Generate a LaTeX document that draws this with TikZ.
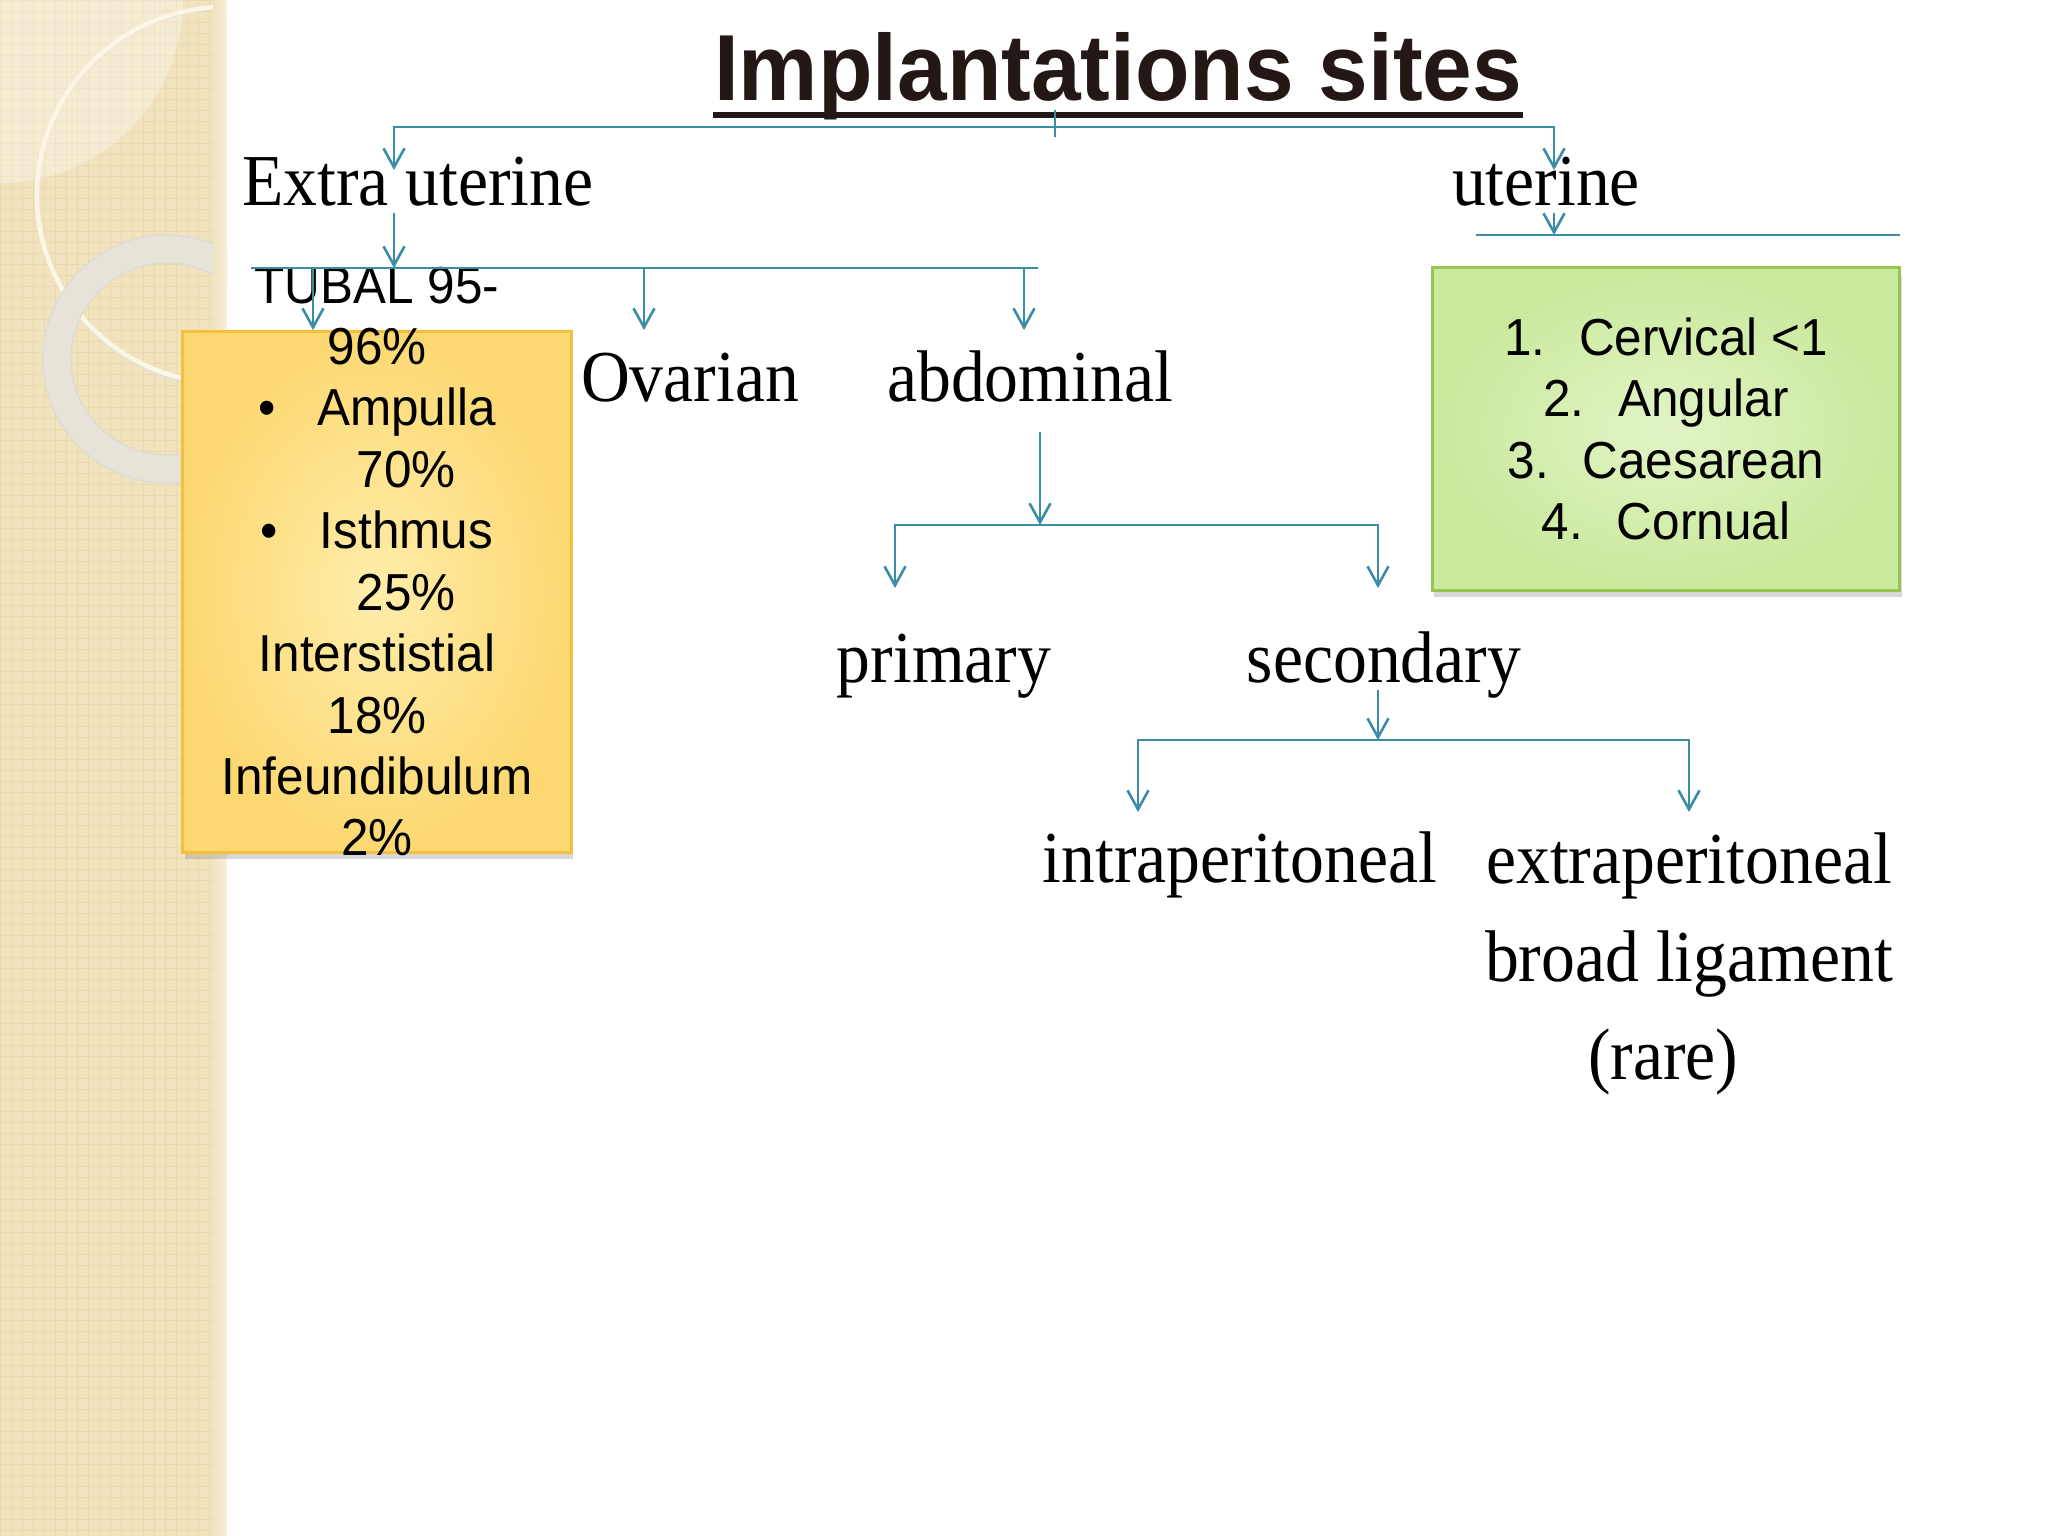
\documentclass[tikz,border=0pt]{standalone}
\usepackage{fontspec}
\setmainfont[FakeStretch=0.925]{Liberation Serif}
\setsansfont[FakeStretch=0.95]{Liberation Sans}
\usetikzlibrary{positioning}
\usetikzlibrary{arrows.meta}
\usetikzlibrary{shadows}
\definecolor{conncol}{HTML}{3A8DA4}
\definecolor{titlecol}{HTML}{231815}
\definecolor{stripcol}{HTML}{F2E3BF}
\definecolor{stripgrid}{HTML}{EAD9AE}
\definecolor{ringcol}{HTML}{E7E3D8}
\definecolor{arccol}{HTML}{FBF6E6}
\definecolor{yellowin}{HTML}{FFEDAA}
\definecolor{yellowout}{HTML}{FCD872}
\definecolor{yellowedge}{HTML}{F3BF3C}
\definecolor{greenin}{HTML}{E2F4C6}
\definecolor{greenout}{HTML}{C9E99C}
\definecolor{greenedge}{HTML}{96C552}
\newcommand{\sitefont}{\fontsize{20.8pt}{27.9pt}\selectfont}
\newcommand{\boxfont}{\sffamily\fontsize{14.8pt}{17.47pt}\selectfont}
\newcommand{\bulletgap}{•\hspace{0.8em}}
\newcommand{\hangpad}{\hphantom{\bulletgap}}

\begin{document}
\begin{tikzpicture}[x=0.01cm, y=-0.01cm, >={Straight Barb[length=0.19cm, width=0.21cm]},
    conn/.style={draw=conncol, line width=0.026cm},
    site/.style={font=\sitefont, inner sep=0pt, anchor=base},
    listbox/.style={draw, line width=0.03cm, inner sep=0pt,
        drop shadow={shadow xshift=0.02cm, shadow yshift=-0.07cm, opacity=0.3}}]
    \useasboundingbox (0,0) rectangle (2048,1536);
    \fill[white] (0,0) rectangle (2048,1536);
    % left decorative strip
    \begin{scope}
        \clip (0,0) rectangle (227,1536);
        \fill[stripcol] (0,0) rectangle (227,1536);
        \draw[stripgrid, line width=0.006cm, step=0.11cm] (0,1536) grid (227,0);
        \fill[white, opacity=0.3] (0,0) circle (183);
        \draw[black!12, line width=0.03cm] (226,197) circle (189);
        \draw[arccol, line width=0.045cm] (225,195) circle (188);
        \fill[ringcol, even odd rule] (167,359) circle (124) (167,359) circle (96);
        \draw[black!15, line width=0.01cm] (167,359) circle (124) (167,359) circle (96);
        \shade[left color=stripcol, right color=white!45!stripcol] (213,0) rectangle (227,1536);
    \end{scope}

    % title
    \node[font=\sffamily\bfseries\fontsize{26.7pt}{32pt}\selectfont, text=titlecol, inner sep=0pt, anchor=base] (title) at (1118,100) {Implantations sites};
    \draw[titlecol, line width=0.06cm] ([yshift=-0.15cm]title.base west) -- ([yshift=-0.15cm]title.base east);

    % sites
    \node[site] (ext) at (418,205) {Extra uterine};
    \node[site] (ut) at (1546,205) {uterine};
    \node[site] (ova) at (690,401) {Ovarian};
    \node[site] (abd) at (1030,401) {abdominal};
    \node[site] (pri) at (944,682) {primary};
    \node[site] (sec) at (1384,682) {secondary};
    \node[site] (intra) at (1240,882) {intraperitoneal};
    \node[site, anchor=north, align=center] (extra) at (1689,832) {extraperitoneal\\broad ligament\\(rare)\hspace*{0.7em}};

    % boxes
    \node[listbox, draw=yellowedge, inner color=yellowin, outer color=yellowout,
        minimum width=3.88cm, minimum height=5.2cm] (tubal) at (377,592) {};
    \node[font=\boxfont, align=center, inner sep=0pt, anchor=north] (tubaltxt) at (377,266)
        {TUBAL 95-\\96\%\\\bulletgap Ampulla\\\hangpad 70\%\\\bulletgap Isthmus\\\hangpad 25\%\\Interstistial\\18\%\\Infeundibulum\\2\%};
    \node[listbox, draw=greenedge, inner color=greenin, outer color=greenout,
        minimum width=4.67cm, minimum height=3.22cm, font=\boxfont, align=center] (uterlist) at (1666,429)
        {1.\hspace{0.65em}Cervical <1\\2.\hspace{0.65em}Angular\\3.\hspace{0.65em}Caesarean\\4.\hspace{0.65em}Cornual};

    % top level
    \coordinate (topbar) at (1055,127);
    \coordinate (extIn) at (394,170);
    \coordinate (utIn) at (1554,170);
    \draw[conn] ([yshift=-0.1cm]title.base -| topbar) -- ([yshift=-0.1cm]topbar);
    \draw[conn, <->] (extIn) -- (extIn |- topbar) -- (utIn |- topbar) -- (utIn);

    % extra uterine
    \coordinate (ejoin) at (394,268);
    \coordinate (ebarL) at (251,268);
    \coordinate (ebarR) at (1038,268);
    \coordinate (tubalIn) at (313,330);
    \coordinate (ovaIn) at (644,330);
    \coordinate (abdIn) at (1024,330);
    \draw[conn, ->] ([yshift=-0.07cm]ext.south -| ejoin) -- (ejoin);
    \draw[conn] (ebarL) -- (ebarR);
    \foreach \tgt in {tubalIn,ovaIn,abdIn}
        \draw[conn, ->] (ebarL -| \tgt) -- (\tgt);

    % uterine
    \coordinate (ujoin) at (1554,235);
    \coordinate (ubarL) at (1476,235);
    \coordinate (ubarR) at (1900,235);
    \draw[conn, ->] ([yshift=-0.07cm]ut.south -| ujoin) -- (ujoin);
    \draw[conn] (ubarL) -- (ubarR);

    % abdominal
    \coordinate (ajoin) at (1040,525);
    \coordinate (priIn) at (895,588);
    \coordinate (secIn) at (1378,588);
    \draw[conn, ->] ([yshift=-0.3cm]abd.south -| ajoin) -- (ajoin);
    \draw[conn, <->] (priIn) -- (priIn |- ajoin) -- (secIn |- ajoin) -- (secIn);

    % secondary
    \coordinate (sjoin) at (1378,740);
    \coordinate (intraIn) at (1138,812);
    \coordinate (extraIn) at (1689,812);
    \draw[conn, ->] ([yshift=-0.08cm]sec.base -| sjoin) -- (sjoin);
    \draw[conn, <->] (intraIn) -- (intraIn |- sjoin) -- (extraIn |- sjoin) -- (extraIn);
\end{tikzpicture}
\end{document}
